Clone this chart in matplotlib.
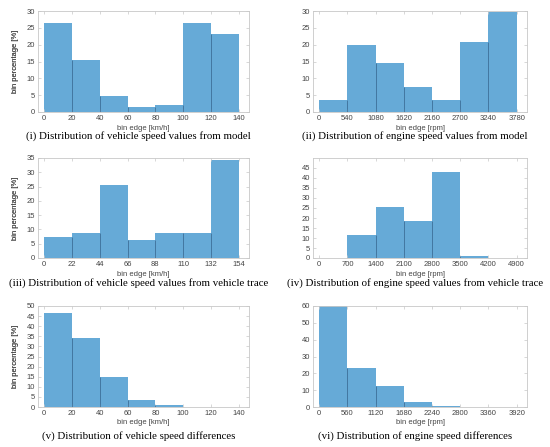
import numpy as np
import matplotlib
matplotlib.use("Agg")
import matplotlib.pyplot as plt

# ---- data ----
edges_v1 = [0, 20, 40, 60, 80, 100, 120, 140]
vals_v1 = [26.5, 15.3, 4.8, 1.5, 2.2, 26.4, 23.2]

edges_e1 = [0, 540, 1080, 1620, 2160, 2700, 3240, 3780]
vals_e1 = [3.6, 20.0, 14.7, 7.3, 3.5, 20.9, 29.7]

edges_v2 = [0, 22, 44, 66, 88, 110, 132, 154]
vals_v2 = [7.3, 8.9, 25.5, 6.4, 8.8, 8.6, 34.2]

edges_e2 = [0, 700, 1400, 2100, 2800, 3500, 4200, 4900]
vals_e2 = [0.0, 11.5, 25.5, 18.7, 43.2, 0.8, 0.15]

edges_v3 = [0, 20, 40, 60, 80, 100, 120, 140]
vals_v3 = [46.5, 34.2, 14.8, 3.5, 1.0, 0.0, 0.0]

edges_e3 = [0, 560, 1120, 1680, 2240, 2800, 3360, 3920]
vals_e3 = [59.8, 23.3, 12.6, 3.2, 0.8, 0.0, 0.0]

xlabels = ["bin edge [km/h]", "bin edge [rpm]"]
ylims = [30, 30, 35, 50, 50, 60]
ytick_max = [30, 30, 35, 45, 50, 60]
yticks_step = [5, 5, 5, 5, 5, 10]
captions = [
    "(i) Distribution of vehicle speed values from model",
    "(ii) Distribution of engine speed values from model",
    "(iii) Distribution of vehicle speed values from vehicle trace",
    "(iv) Distribution of engine speed values from vehicle trace",
    "(v) Distribution of vehicle speed differences",
    "(vi) Distribution of engine speed differences",
]

panels = [(edges_v1, vals_v1), (edges_e1, vals_e1),
          (edges_v2, vals_v2), (edges_e2, vals_e2),
          (edges_v3, vals_v3), (edges_e3, vals_e3)]

W, H = 550, 447
fig = plt.figure(figsize=(W / 100, H / 100), dpi=100)

col_lr = [(38, 249), (313, 527)]
row_tb = [(11, 112), (158, 258), (306, 407)]
cap_y = [136, 283, 436]
xlab_y = [128, 274, 423]

FILL = "#66aad7"
EDGE = "#3d6f98"
SPINE = "#c8c8c8"
TXT = "#454545"

for i, (edges, vals) in enumerate(panels):
    r, c = divmod(i, 2)
    l, rr = col_lr[c]
    t, b = row_tb[r]
    ax = fig.add_axes([l / W, 1 - b / H, (rr - l) / W, (b - t) / H])
    edges = np.asarray(edges, dtype=float)
    vals = np.asarray(vals, dtype=float)
    widths = np.diff(edges)
    ax.bar(edges[:-1], vals, width=widths, align="edge", color=FILL,
           edgecolor="none", linewidth=0)
    # internal dividing lines between adjacent bars
    inner = edges[1:-1]
    hts = np.minimum(vals[:-1], vals[1:])
    ax.vlines(inner, 0, hts, colors=EDGE, linewidth=0.6)
    R = edges[-1]
    ax.set_xlim(-0.031 * R, R * 1.052)
    ax.set_ylim(0, ylims[i])
    ax.set_xticks(edges)
    ax.set_xticklabels([f"{int(e)}" for e in edges])
    ax.set_yticks(np.arange(0, ytick_max[i] + 0.1, yticks_step[i]))
    ax.tick_params(direction="in", length=2, width=0.5, color=SPINE,
                   labelsize=5.5, labelcolor=TXT, pad=2,
                   top=True, right=True)
    for s in ax.spines.values():
        s.set_color(SPINE)
        s.set_linewidth(0.6)
    for lab in ax.get_xticklabels() + ax.get_yticklabels():
        lab.set_family("Liberation Sans")
    ax.set_ylabel("bin percentage [%]", fontsize=5.4, color=TXT,
                  family="Liberation Sans", labelpad=2)
    ax.yaxis.set_label_coords(-(l - 19) / (rr - l), 0.5)
    fig.text((l + rr) / 2 / W, 1 - xlab_y[r] / H, xlabels[c],
             ha="center", va="center", fontsize=5.5, color=TXT,
             family="Liberation Sans")
    fig.text(((l + rr) / 2 - 5) / W, 1 - cap_y[r] / H, captions[i],
             ha="center", va="center", fontsize=7.8, color="black",
             family="Liberation Serif")

fig.savefig("out.png", dpi=100)
